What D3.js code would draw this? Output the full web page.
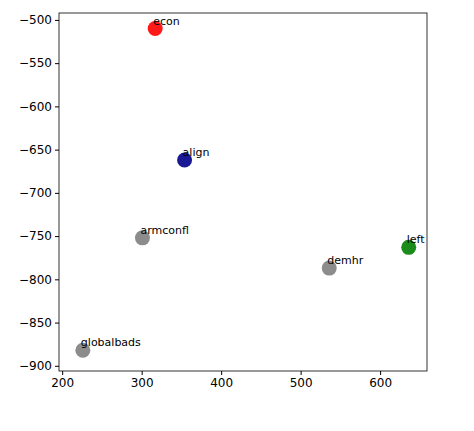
<!DOCTYPE html>
<html><head><meta charset="utf-8">
<script src="https://cdn.jsdelivr.net/npm/d3@7"></script>
<style>body{margin:0;background:#fff} text{font-family:"DejaVu Sans",sans-serif}</style>
</head><body>
<svg id="chart" width="474" height="431"></svg>
<script>
// node positions
var names = ["econ", "align", "armconfl", "globalbads", "demhr", "left"];
var xs = [317, 354, 301, 226, 536, 636];
var ys = [-510, -662, -752, -882, -787, -763];
var colors = ["red", "darkblue", "grey", "grey", "grey", "green"];
var xTicks = [200, 300, 400, 500, 600];
var yTicks = [-500, -550, -600, -650, -700, -750, -800, -850, -900];

var svg = d3.select("#chart");
var mLeft = 59, mRight = 427, mTop = 13, mBottom = 371;

var x = d3.scaleLinear().domain([196, 659]).range([mLeft, mRight]);
var y = d3.scaleLinear().domain([-906, -492]).range([mBottom, mTop]);

svg.append("g").attr("transform", "translate(0," + mBottom + ")")
    .call(d3.axisBottom(x).tickValues(xTicks).tickSize(4).tickPadding(3))
    .call(function(g){ g.select(".domain").remove(); })
    .selectAll("text").attr("font-size", 12).attr("fill", "#000");

svg.append("g").attr("transform", "translate(" + mLeft + ",0)")
    .call(d3.axisLeft(y).tickValues(yTicks).tickSize(4).tickPadding(3).tickFormat(function(d){ return "\u2212" + Math.abs(d); }))
    .call(function(g){ g.select(".domain").remove(); })
    .selectAll("text").attr("font-size", 12).attr("fill", "#000");

svg.append("rect").attr("x", mLeft).attr("y", mTop)
    .attr("width", mRight - mLeft).attr("height", mBottom - mTop)
    .attr("fill", "none").attr("stroke", "#000").attr("stroke-width", 0.8);

var idx = d3.range(names.length);
svg.selectAll(".node").data(idx).enter().append("circle")
    .attr("class", "node")
    .attr("cx", function(i){ return x(xs[i]); })
    .attr("cy", function(i){ return y(ys[i]); })
    .attr("r", 7.5)
    .attr("fill", function(i){ return colors[i]; })
    .attr("opacity", 0.9);

svg.selectAll(".lbl").data(idx).enter().append("text")
    .attr("class", "lbl")
    .attr("x", function(i){ return x(xs[i]) - 2; })
    .attr("y", function(i){ return y(ys[i]) - 4; })
    .attr("font-size", 11)
    .text(function(i){ return names[i]; });
</script>
</body></html>
